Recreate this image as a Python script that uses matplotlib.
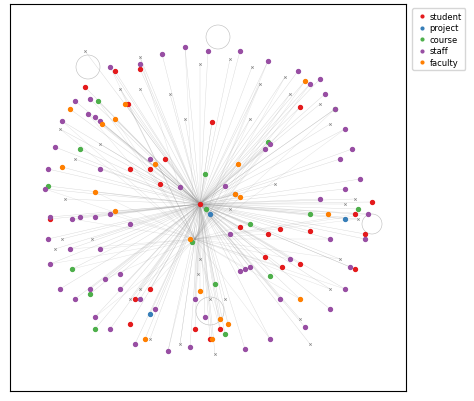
import matplotlib
matplotlib.use("Agg")
import matplotlib.pyplot as plt
from matplotlib.patches import Circle

staff_x = [185,208,240,268,298,320,110,90,75,62,55,48,45,50,48,50,60,75,95,110,135,168,190,245,270,305,330,345,350,365,368,360,352,345,335,325,310,140,162,88,95,100,110,95,80,72,130,150,245,250,240,265,270,120,105,90,120,195,205,180,225,155,320,330,345,100,70,340,280,290,230,140,100]
staff_y = [48,52,52,62,72,80,68,100,102,122,148,170,190,218,240,265,290,300,318,330,345,352,348,350,340,328,310,290,268,240,215,180,150,130,110,95,85,65,55,115,118,122,215,218,218,220,225,160,270,268,272,150,145,275,280,290,290,300,318,188,187,310,200,240,190,170,250,160,300,260,235,300,250]
student_x = [115,140,128,130,160,150,165,50,212,200,240,268,280,265,282,300,310,355,372,365,150,130,210,220,195,85,300,135,355]
student_y = [72,70,105,170,185,170,160,220,123,205,228,235,230,258,268,265,232,215,203,235,290,325,340,330,330,88,108,300,270]
course_x = [98,80,48,72,95,225,206,205,268,192,270,310,335,215,358,250,90]
course_y = [102,150,187,270,330,335,210,175,143,243,277,215,110,285,210,225,295]
faculty_x = [62,95,115,125,115,102,238,190,200,240,235,212,228,305,328,70,220,145,155,300]
faculty_y = [168,193,212,105,120,125,165,240,292,198,195,340,325,82,215,110,320,340,165,300]
project_x = [150,235,210,345]
project_y = [315,195,215,220]
minor_x = [85,140,200,252,285,320,330,60,65,62,330,300,150,140,230,200,198,210,345,358,100,92,340,275,185,120,140,130,250,170,230,260,75,55,290,310,215,180,225,355]
minor_y = [52,58,65,68,78,105,125,130,200,240,290,320,340,290,210,260,275,300,205,220,145,240,260,185,120,90,90,300,120,95,60,85,160,250,95,345,355,345,300,200]

hub = (200, 205)
hub2 = (195, 240)

fig = plt.figure(figsize=(4.74, 4.02), dpi=100)
ax = fig.add_axes([10/474, 10/402, 396/474, 387/402])
ax.set_xlim(10, 406)
ax.set_ylim(392, 5)
ax.set_xticks([]); ax.set_yticks([])

all_x = staff_x + student_x + course_x + faculty_x + project_x + minor_x
all_y = staff_y + student_y + course_y + faculty_y + project_y + minor_y
for x, y in zip(all_x, all_y):
    ax.plot([hub[0], x], [hub[1], y], color="#999999", lw=0.3, alpha=0.4, zorder=1)
for x, y in zip(all_x[::3], all_y[::3]):
    ax.plot([hub2[0], x], [hub2[1], y], color="#999999", lw=0.3, alpha=0.3, zorder=1)

for c in [(218, 38, 12), (88, 68, 12), (372, 225, 10), (210, 312, 14)]:
    ax.add_patch(Circle((c[0], c[1]), c[2], fill=False, ec="#bbbbbb", lw=0.4))

ax.scatter(minor_x, minor_y, s=3, c="#888888", marker="x", lw=0.5, zorder=2)
ax.scatter(student_x, student_y, s=8, c="#e41a1c", label="student", zorder=3)
ax.scatter(project_x, project_y, s=8, c="#377eb8", label="project", zorder=3)
ax.scatter(course_x, course_y, s=8, c="#4daf4a", label="course", zorder=3)
ax.scatter(staff_x, staff_y, s=8, c="#984ea3", label="staff", zorder=3)
ax.scatter(faculty_x, faculty_y, s=8, c="#ff7f00", label="faculty", zorder=3)

ax.legend(loc="upper left", bbox_to_anchor=(1.005, 1.0), fontsize=6, markerscale=0.7,
          handletextpad=0.2, handlelength=1.5, borderpad=0.4, labelspacing=0.3)
fig.savefig("out.png", dpi=100)
